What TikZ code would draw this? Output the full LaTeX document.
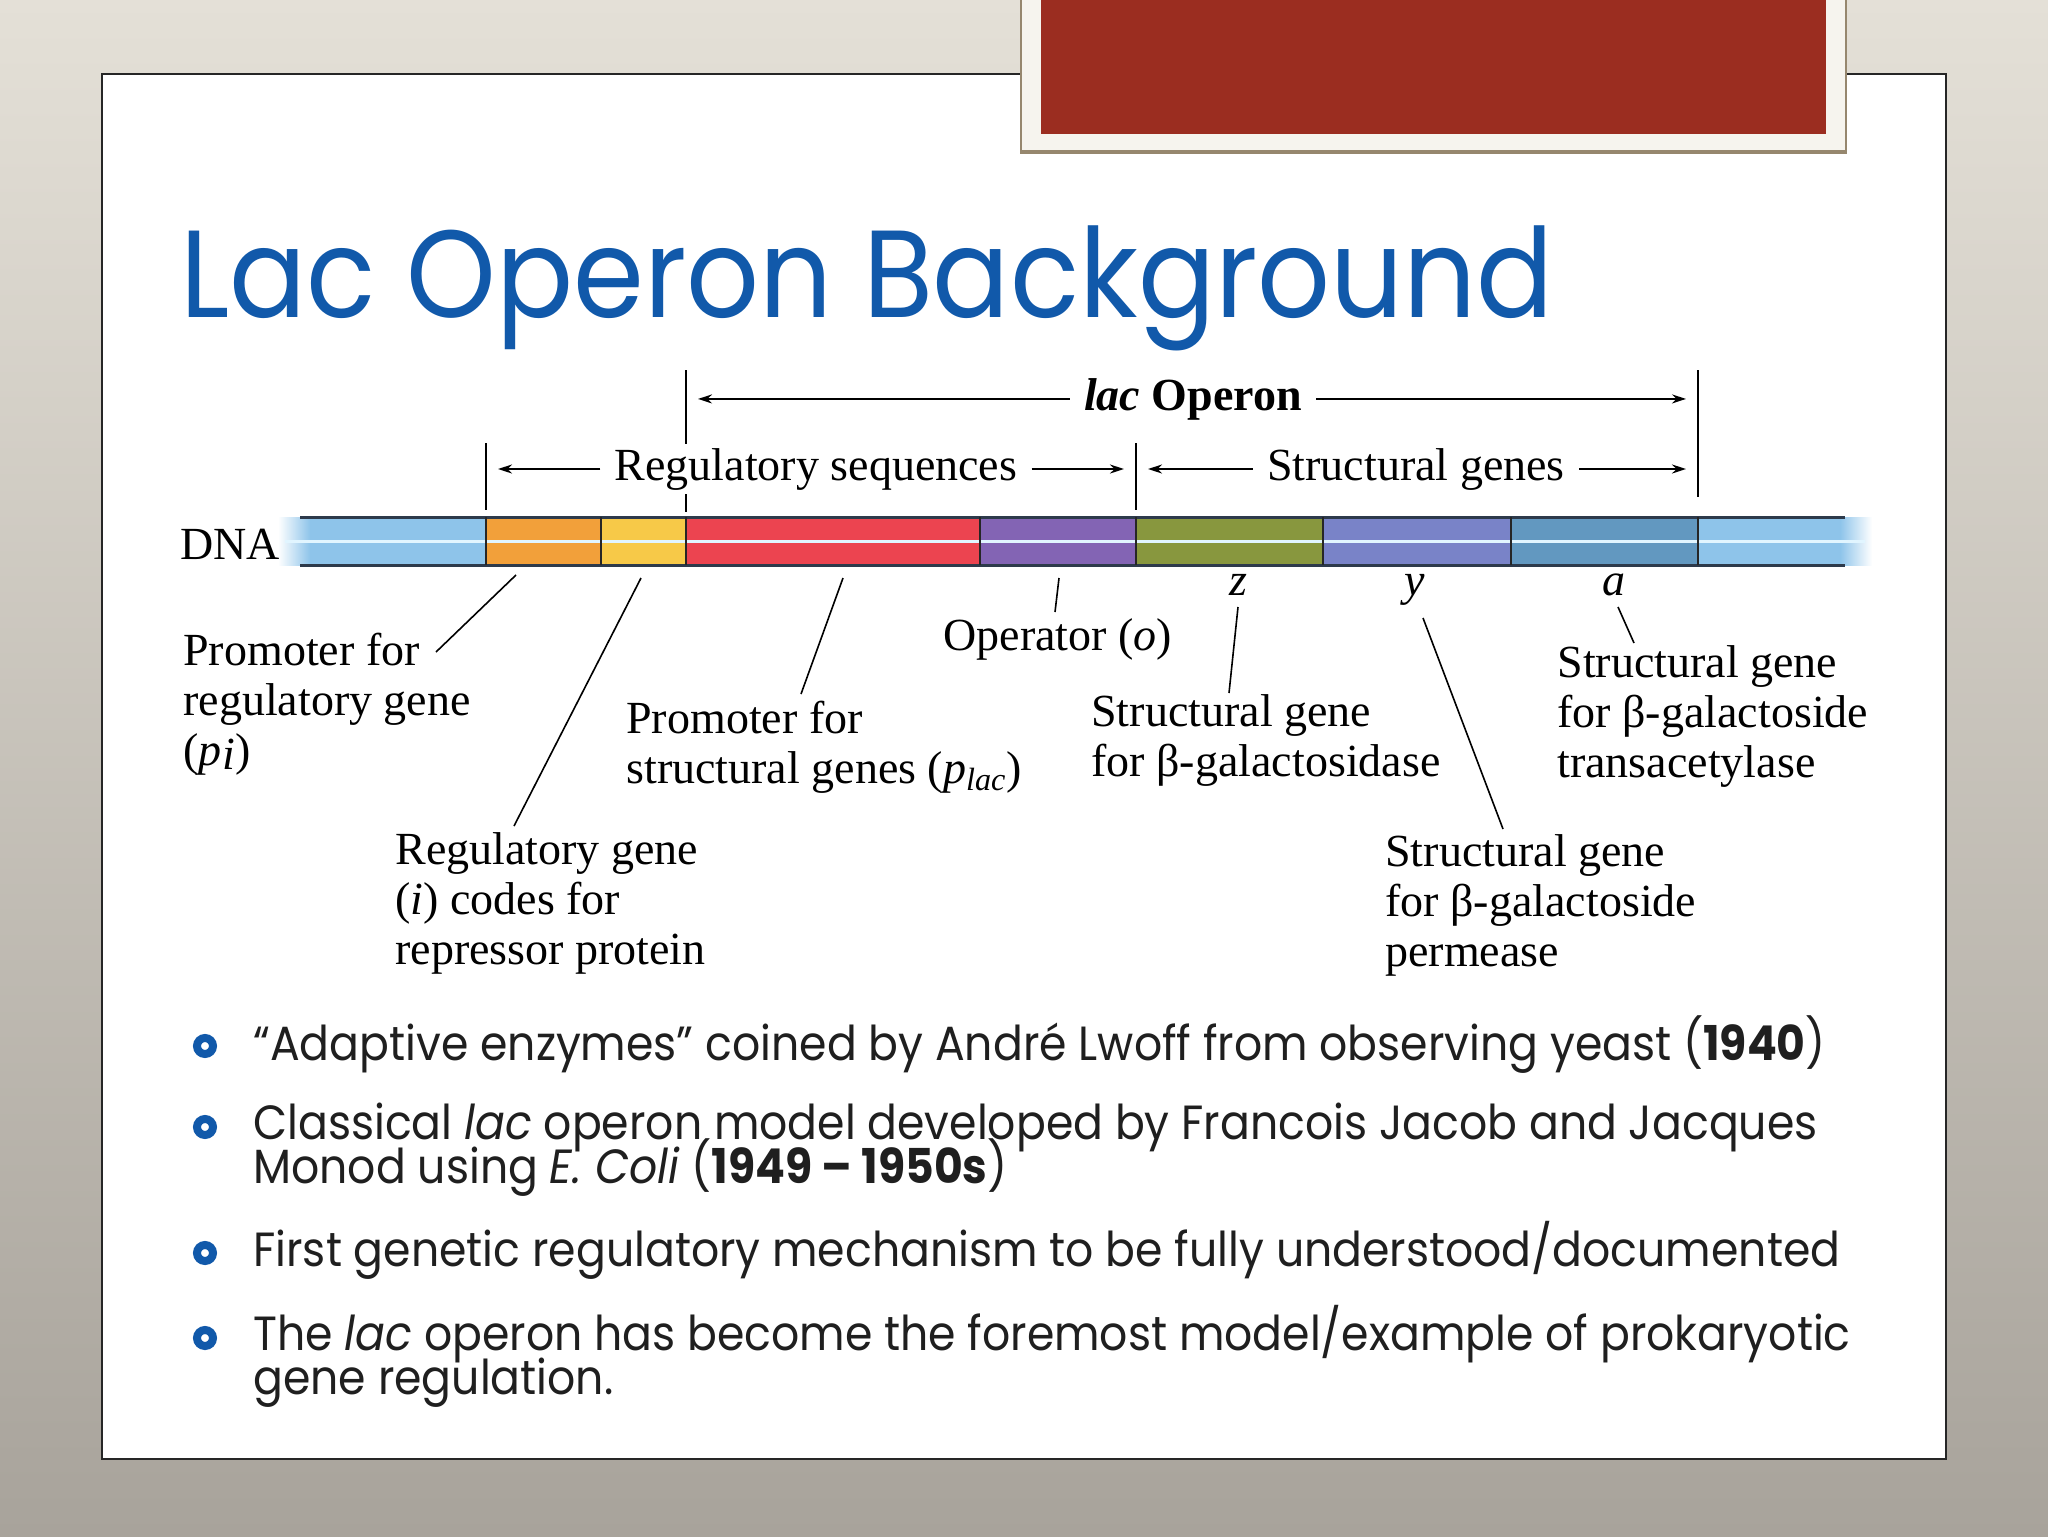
\documentclass[tikz,border=0pt]{standalone}
\usepackage{fontspec}
\setmainfont{Liberation Serif}
\newfontfamily\gothic[FakeStretch=0.92]{Poppins}
\usetikzlibrary{arrows.meta,positioning}

\newcommand{\rows}[1]{\vtop{\lineskiplimit=-\maxdimen\halign{##\hfil\cr#1\crcr}}}

\definecolor{slidetop}{RGB}{228,224,215}
\definecolor{slidebottom}{RGB}{168,163,155}
\definecolor{titleblue}{RGB}{17,89,170}
\definecolor{capred}{RGB}{155,45,32}
\definecolor{capframe}{RGB}{246,244,238}
\definecolor{capshadow}{RGB}{150,135,110}
\definecolor{dnaedge}{RGB}{45,58,75}
\definecolor{dnamid}{RGB}{225,245,255}
\definecolor{segsky}{RGB}{142,196,234}
\definecolor{segorange}{RGB}{242,160,58}
\definecolor{segyellow}{RGB}{247,201,72}
\definecolor{segred}{RGB}{236,68,80}
\definecolor{segpurple}{RGB}{131,100,180}
\definecolor{segolive}{RGB}{136,151,62}
\definecolor{segviolet}{RGB}{121,131,200}
\definecolor{segsteel}{RGB}{98,152,192}

\begin{document}
\begin{tikzpicture}[x=0.5pt,y=-0.5pt]

\tikzset{lbl/.style={font=\fontsize{23}{25}\selectfont,inner sep=0pt,anchor=base west}}
\tikzset{dim/.style={line width=1pt,-{Stealth[length=7pt,width=4.5pt]},shorten >=6pt,shorten <=5pt}}
\tikzset{tick/.style={line width=1pt}}
\tikzset{ptr/.style={line width=0.8pt}}
\tikzset{bullet/.style={circle,draw=titleblue,line width=4pt,minimum size=8pt,inner sep=0pt}}
\tikzset{point/.style={font=\gothic\fontsize{24}{22}\selectfont,text=black!88,inner sep=0pt,anchor=base west}}

\useasboundingbox (0,0) rectangle (2048,1536);
\shade[top color=slidetop,bottom color=slidebottom] (0,0) rectangle (2048,1536);

\draw[fill=white,draw=black!85,line width=1pt] (102,74) rectangle (1946,1459);

\fill[capshadow] (1020,0) rectangle (1847,154);
\fill[capframe] (1022,0) rectangle (1845,150);
\fill[capred] (1041,0) rectangle (1826,134);

\node[font=\gothic\fontsize{62}{62}\selectfont,text=titleblue,inner sep=0pt,anchor=base west] (title) at (180,317) {Lac Operon Background};

\foreach \xa/\xb/\col in {300/486/segsky,486/601/segorange,601/686/segyellow,686/980/segred,980/1136/segpurple,1136/1323/segolive,1323/1511/segviolet,1511/1698/segsteel,1698/1850/segsky}
{
    \fill[\col] (\xa,517) rectangle (\xb,565);
}
\shade[left color=white,right color=segsky] (278,517) rectangle (310,565);
\shade[left color=segsky,right color=white] (1840,517) rectangle (1872,565);
\draw[dnaedge,line width=1.5pt] (300,517) -- (1845,517);
\draw[dnaedge,line width=1.5pt] (300,565) -- (1845,565);
\draw[dnamid,line width=1.5pt] (285,541) -- (1865,541);

\foreach \xd in {486,601,686,980,1136,1323,1511,1698}
{
    \draw[black!85,line width=1pt] (\xd,517) -- (\xd,565);
}

\node[lbl] (dna) at (180,559) {DNA};

\coordinate (opL) at (686,370);
\coordinate (opLb) at (686,512);
\coordinate (opR) at (1698,370);
\coordinate (opRb) at (1698,497);
\coordinate (regL) at (486,443);
\coordinate (regLb) at (486,510);
\coordinate (strL) at (1136,443);
\coordinate (strLb) at (1136,510);

\draw[tick] (opL) -- (opLb);
\draw[tick] (opR) -- (opRb);
\draw[tick] (regL) -- (regLb);
\draw[tick] (strL) -- (strLb);

\node[lbl,anchor=base,fill=white,inner sep=2pt] (optxt) at (1193,410) {\textbf{\textit{lac} Operon}};
\node[lbl,anchor=base,fill=white,inner sep=2pt] (regtxt) at (816,480) {Regulatory sequences};
\node[lbl,anchor=base,fill=white,inner sep=2pt] (strtxt) at (1416,480) {Structural genes};

\draw[dim] (optxt.west) -- (optxt.west -| opL);
\draw[dim] (optxt.east) -- (optxt.east -| opR);
\draw[dim] (regtxt.west) -- (regtxt.west -| regL);
\draw[dim] (regtxt.east) -- (regtxt.east -| strL);
\draw[dim] (strtxt.west) -- (strtxt.west -| strL);
\draw[dim] (strtxt.east) -- (strtxt.east -| opR);

\node[lbl] (pilbl) at (183,665) {\rows{Promoter for\cr regulatory gene\cr (\textit{p\kern0.5pt\raisebox{-2pt}{i}})}};
\node[lbl] (ilbl) at (395,864) {\rows{Regulatory gene\cr (\textit{i}) codes for\cr repressor protein}};
\node[lbl] (placlbl) at (626,733) {\rows{Promoter for\cr structural genes (\textit{p}\textsubscript{\textit{lac}})}};
\node[lbl] (oplbl) at (943,650) {Operator (\textit{o})};
\node[lbl] (zlbl) at (1091,726) {\rows{Structural gene\cr for β-galactosidase}};
\node[lbl] (ylbl) at (1385,866) {\rows{Structural gene\cr for β-galactoside\cr permease}};
\node[lbl] (albl) at (1557,677) {\rows{Structural gene\cr for β-galactoside\cr transacetylase}};

\node[lbl,anchor=base] (zgene) at (1238,595) {\textit{z}};
\node[lbl,anchor=base] (ygene) at (1415,595) {\textit{y}};
\node[lbl,anchor=base] (agene) at (1614,595) {\textit{a}};

\coordinate (piTop) at (516,575);
\coordinate (piEnd) at (436,652);
\coordinate (iTop) at (641,578);
\coordinate (iEnd) at (514,826);
\coordinate (placTop) at (843,578);
\coordinate (placEnd) at (801,694);
\coordinate (opTop) at (1059,578);
\coordinate (opEnd) at (1055,612);
\coordinate (zTop) at (1238,607);
\coordinate (zEnd) at (1229,693);
\coordinate (yTop) at (1423,618);
\coordinate (yEnd) at (1503,829);
\coordinate (aTop) at (1618,607);
\coordinate (aEnd) at (1634,643);

\draw[ptr] (piTop) -- (piEnd);
\draw[ptr] (iTop) -- (iEnd);
\draw[ptr] (placTop) -- (placEnd);
\draw[ptr] (opTop) -- (opEnd);
\draw[ptr] (zTop) -- (zEnd);
\draw[ptr] (yTop) -- (yEnd);
\draw[ptr] (aTop) -- (aEnd);

\node[bullet] (b1) at (205,1046) {};
\node[bullet] (b2) at (205,1127) {};
\node[bullet] (b3) at (205,1253) {};
\node[bullet] (b4) at (205,1338) {};

\node[point] (t1) at (253,1060) {“Adaptive enzymes” coined by André Lwoff from observing yeast (\textbf{1940})};
\node[point] (t2) at (253,1139) {\rows{Classical \textit{lac} operon model developed by Francois Jacob and Jacques\cr Monod using \textit{E. Coli} (\textbf{1949 – 1950s})}};
\node[point] (t3) at (253,1266) {First genetic regulatory mechanism to be fully understood/documented};
\node[point] (t4) at (253,1350) {\rows{The \textit{lac} operon has become the foremost model/example of prokaryotic\cr gene regulation.}};

\end{tikzpicture}
\end{document}
